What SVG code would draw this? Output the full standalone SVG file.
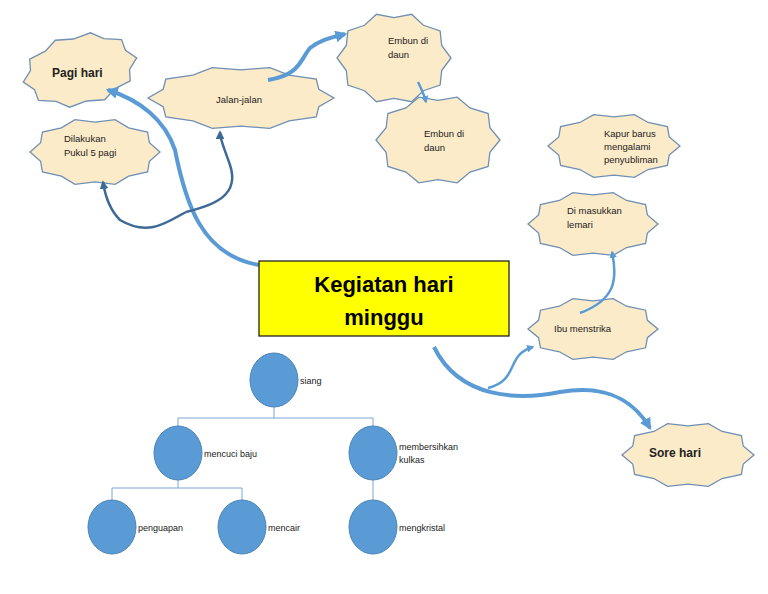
<svg xmlns="http://www.w3.org/2000/svg" xmlns:xlink="http://www.w3.org/1999/xlink" width="768" height="594" viewBox="0 0 768 594">
<style>
.st{fill:#fcebc8;stroke:#6f8fb3;stroke-width:1.3}
.t{font-family:"Liberation Sans",Arial,sans-serif;font-size:9.5px;fill:#222}
.b{font-weight:bold;font-size:12px}
.s{font-size:9px}
.h{font-size:22px;font-weight:bold;fill:#000}
.c{fill:#5b9bd5;stroke:#4a84b8;stroke-width:1}
.tl{stroke:#7aa6d6;stroke-width:1;fill:none}
.a{fill:none;stroke:#5b9bd5;stroke-width:4}
.a2{fill:none;stroke:#5b9bd5;stroke-width:2.5}
.d{fill:none;stroke:#3e6a96;stroke-width:2.5}
</style>
<defs>
<polygon id="s" vector-effect="non-scaling-stroke" points="1,0 .837,.272 .809,.588 .517,.712 .309,.951 0,.88 -.309,.951 -.517,.712 -.809,.588 -.837,.272 -1,0 -.837,-.272 -.809,-.588 -.517,-.712 -.309,-.951 0,-.88 .309,-.951 .517,-.712 .809,-.588 .837,-.272"/>
<marker id="m" viewBox="0 0 10 10" refX="8" refY="5" markerWidth="3" markerHeight="3" orient="auto"><path d="M0,0L10,5L0,10z" fill="#5b9bd5"/></marker>
<marker id="md" viewBox="0 0 10 10" refX="8" refY="5" markerWidth="3.5" markerHeight="3.5" orient="auto"><path d="M0,0L10,5L0,10z" fill="#3e6a96"/></marker>
</defs>
<g id="pagi"><use xlink:href="#s" class="st" transform="translate(80,70) rotate(-12) scale(58,36)"/><text class="t b" x="52" y="77">Pagi hari</text></g>
<g id="dilakukan"><use xlink:href="#s" class="st" transform="translate(95,152) scale(65,34)"/><text class="t" x="64" y="142">Dilakukan</text><text class="t" x="64" y="156">Pukul 5 pagi</text></g>
<g id="jalan"><use xlink:href="#s" class="st" transform="translate(241,98) scale(93,32)"/><text class="t" x="216" y="103">Jalan-jalan</text></g>
<g id="embun1"><use xlink:href="#s" class="st" transform="translate(394,58) scale(57,46)"/><text class="t" x="388" y="44">Embun di</text><text class="t" x="388" y="58">daun</text></g>
<g id="embun2"><use xlink:href="#s" class="st" transform="translate(438,140) scale(62,45)"/><text class="t" x="424" y="137">Embun di</text><text class="t" x="424" y="151">daun</text></g>
<g id="kapur"><use xlink:href="#s" class="st" transform="translate(614,146) scale(66,33)"/><text class="t" x="604" y="137">Kapur barus</text><text class="t" x="604" y="150">mengalami</text><text class="t" x="604" y="163">penyubliman</text></g>
<g id="lemari"><use xlink:href="#s" class="st" transform="translate(593,224) scale(65,33)"/><text class="t" x="567" y="214">Di masukkan</text><text class="t" x="567" y="228">lemari</text></g>
<g id="ibu"><use xlink:href="#s" class="st" transform="translate(593,329) scale(65,32)"/><text class="t" x="554" y="332">Ibu menstrika</text></g>
<g id="sore"><use xlink:href="#s" class="st" transform="translate(688,455) scale(66,33)"/><text class="t b" x="649" y="457">Sore hari</text></g>
<g id="connectors">
<path class="a" d="M259,265 C200,255 185,200 175,150 C165,120 140,100 108,90" marker-end="url(#m)"/>
<path class="d" d="M186,212 C170,220 150,238 120,220 C110,210 105,195 103,182" marker-end="url(#md)"/>
<path class="d" d="M186,212 C215,205 240,195 230,165 C225,150 220,140 220,132" marker-end="url(#md)"/>
<path class="a" d="M268,80 C300,75 300,60 310,48 C320,40 330,38 345,34" marker-end="url(#m)"/>
<path class="a2" d="M418,82 C421,88 424,94 426,102" marker-end="url(#m)"/>
<path class="a" d="M434,347 C460,400 520,400 560,392 C600,385 630,395 650,428" marker-end="url(#m)"/>
<path class="a2" d="M488,388 C520,380 505,355 533,347" marker-end="url(#m)"/>
<path class="a2" d="M580,313 C615,300 618,280 612,252" marker-end="url(#m)"/>
</g>
<g id="main"><rect x="259" y="261" width="250" height="75" fill="#ffff00" stroke="#222" stroke-width="1.3"/><text class="t h" x="384" y="292" text-anchor="middle">Kegiatan hari</text><text class="t h" x="384" y="325" text-anchor="middle">minggu</text></g>
<g id="tree-lines">
<path class="tl" d="M274,407V418M178,418H373M178,418V426M373,418V426M178,480V488M112,488H242M112,488V500M242,488V500M373,480V500"/>
</g>
<g id="siang"><ellipse class="c" cx="274" cy="380" rx="24" ry="27"/><text class="t s" x="300" y="384">siang</text></g>
<g id="mencuci"><ellipse class="c" cx="178" cy="453" rx="24" ry="27"/><text class="t s" x="204" y="457">mencuci baju</text></g>
<g id="membersihkan"><ellipse class="c" cx="373" cy="453" rx="24" ry="27"/><text class="t s" x="399" y="450">membersihkan</text><text class="t s" x="399" y="463">kulkas</text></g>
<g id="penguapan"><ellipse class="c" cx="112" cy="527" rx="24" ry="27"/><text class="t s" x="138" y="531">penguapan</text></g>
<g id="mencair"><ellipse class="c" cx="242" cy="527" rx="24" ry="27"/><text class="t s" x="268" y="531">mencair</text></g>
<g id="mengkristal"><ellipse class="c" cx="373" cy="527" rx="24" ry="27"/><text class="t s" x="399" y="531">mengkristal</text></g>
</svg>
